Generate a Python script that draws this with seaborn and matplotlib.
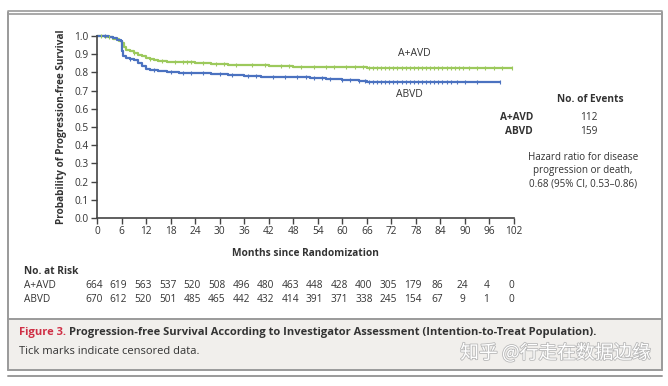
import numpy as np
import pandas as pd
import seaborn as sns
from matplotlib import pyplot as plt
from matplotlib import patheffects
from matplotlib.patches import Rectangle

# Данные кривых Каплана-Мейера (месяцы, вероятность)
aavd_t = [0, 2, 4, 5.5, 6, 6.5, 7, 8, 9, 10, 11, 12, 13, 14, 15, 17, 20, 24, 28, 32, 36, 42, 48, 54, 60, 66, 101.5]
aavd_s = [1.0, 0.995, 0.985, 0.975, 0.96, 0.94, 0.925, 0.915, 0.905, 0.897, 0.89, 0.88, 0.872, 0.866, 0.86, 0.857,
          0.855, 0.85, 0.846, 0.842, 0.84, 0.836, 0.832, 0.829, 0.827, 0.825, 0.825]
abvd_t = [0, 2, 3, 4, 5, 5.8, 6, 6.3, 7, 8, 9, 10, 11, 12, 13, 15, 17, 20, 24, 28, 32, 36, 40, 44, 48, 52, 56, 60, 64, 66, 98.5]
abvd_s = [1.0, 0.998, 0.995, 0.99, 0.98, 0.97, 0.92, 0.89, 0.88, 0.875, 0.87, 0.85, 0.835, 0.82, 0.815, 0.81, 0.80,
          0.797, 0.795, 0.79, 0.787, 0.78, 0.777, 0.775, 0.772, 0.768, 0.762, 0.758, 0.753, 0.75, 0.75]

# Цензурированные наблюдения (месяцы)
aavd_cens = [1, 3, 9, 13, 16, 19, 21, 22, 23, 26, 29, 31, 34, 38, 41, 45, 47, 50, 53, 56, 58, 61, 63, 65, 66.5, 67.5,
             68.5, 69.5, 70.5, 71.5, 72.5, 73.5, 74.5, 75.5, 76.5, 77.5, 78.5, 79.5, 80.5, 81.5, 82.5, 83.5, 84.5,
             85.5, 86.5, 87.5, 88.5, 89.5, 91, 93, 95, 97, 99, 101.5]
abvd_cens = [2, 8, 14, 18, 21, 23, 26, 30, 33, 37, 39, 43, 46, 49, 51, 53, 55, 57, 60, 62, 64, 65.5, 66.5, 67.5, 68.5,
             69.5, 70.5, 71.5, 72.5, 73.5, 74.5, 75.5, 76.5, 77.5, 78.5, 79.5, 80.5, 81.5, 82.5, 83.5, 84.5, 85.5,
             86.5, 88, 90, 93, 98.5]

# Число пациентов под риском
months = [0, 6, 12, 18, 24, 30, 36, 42, 48, 54, 60, 66, 72, 78, 84, 90, 96, 102]
risk_aavd = [664, 619, 563, 537, 520, 508, 496, 480, 463, 448, 428, 400, 305, 179, 86, 24, 4, 0]
risk_abvd = [670, 612, 520, 501, 485, 465, 442, 432, 414, 391, 371, 338, 245, 154, 67, 9, 1, 0]

green = '#9cc95c'
blue = '#4b72c0'
text_c = '#333333'

sns.set_theme(style="white")
plt.rcParams['font.family'] = ['Open Sans', 'Noto Sans CJK SC', 'DejaVu Sans']

fig = plt.figure(figsize=(6.68, 3.86), dpi=100)

# Рамки
fig.patches.append(Rectangle((8 / 668, 1 - 370 / 386), 654 / 668, 51 / 386, transform=fig.transFigure,
                             facecolor='#f1efec', edgecolor='none', zorder=0))
for y0 in [11, 13.5]:
    fig.add_artist(plt.Line2D([8 / 668, 662 / 668], [1 - y0 / 386] * 2, color='#9a9a9a', lw=1.2))
for y0 in [319, 370, 376]:
    fig.add_artist(plt.Line2D([8 / 668, 662 / 668], [1 - y0 / 386] * 2, color='#9a9a9a', lw=1.4))
fig.add_artist(plt.Line2D([8 / 668] * 2, [1 - 12 / 386, 1 - 370 / 386], color='#9a9a9a', lw=1.4))
fig.add_artist(plt.Line2D([662 / 668] * 2, [1 - 12 / 386, 1 - 370 / 386], color='#9a9a9a', lw=1.4))

ax = fig.add_axes([97 / 668, 1 - 218 / 386, 417 / 668, 182 / 386])

df = pd.concat([pd.DataFrame({'t': aavd_t, 's': aavd_s, 'arm': 'A+AVD'}),
                pd.DataFrame({'t': abvd_t, 's': abvd_s, 'arm': 'ABVD'})])
sns.lineplot(data=df, x='t', y='s', hue='arm', palette={'A+AVD': green, 'ABVD': blue}, estimator=None,
             sort=False, drawstyle='steps-post', linewidth=1.6, legend=False, ax=ax, clip_on=False)


def surv_at(times, tt, ss):
    idx = np.searchsorted(tt, times, side='right') - 1
    return np.array(ss)[idx]


for cens, tt, ss, col in [(aavd_cens, aavd_t, aavd_s, green), (abvd_cens, abvd_t, abvd_s, blue)]:
    ax.plot(cens, surv_at(cens, tt, ss), linestyle='none', marker='|', markersize=3.2, markeredgewidth=0.8,
            color=col, clip_on=False)

ax.set_xlim(0, 102)
ax.set_ylim(0, 1.0)
ax.set_xticks(months)
ax.set_yticks(np.round(np.arange(0, 1.01, 0.1), 1))
ax.set_yticklabels([f'{v:.1f}' for v in np.arange(0, 1.01, 0.1)])
ax.tick_params(axis='both', direction='out', length=4, width=1, color='#444444', labelsize=7.3,
               labelcolor=text_c, pad=2, left=True, bottom=True)
sns.despine(ax=ax)
for sp in ['left', 'bottom']:
    ax.spines[sp].set_color('#444444')
    ax.spines[sp].set_linewidth(1.2)
ax.set_xlabel('Months since Randomization', fontsize=7.3, fontweight='bold', color=text_c, labelpad=8)
ax.set_ylabel('Probability of Progression-free Survival', fontsize=7.2, fontweight='bold', color=text_c,
              labelpad=5)

ax.text(77.5, 0.875, 'A+AVD', fontsize=7.5, color=text_c, ha='center', va='bottom')
ax.text(76.5, 0.71, 'ABVD', fontsize=7.5, color=text_c, ha='center', va='top')


# Правая панель
def ftext(x, y, s, size=7.3, **kw):
    return fig.text(x / 668, 1 - y / 386, s, fontsize=size, color=text_c, va='center', **kw)


ftext(590, 99, 'No. of Events', ha='center', fontweight='bold')
ftext(533, 117, 'A+AVD', ha='right', fontweight='bold')
ftext(533, 131, 'ABVD', ha='right', fontweight='bold')
ftext(589, 117, '112', ha='center')
ftext(589, 131, '159', ha='center')
ftext(583, 171, 'Hazard ratio for disease\nprogression or death,\n0.68 (95% CI, 0.53\u20130.86)', ha='center',
      linespacing=1.25, size=7.1)

# Таблица риска
ftext(24, 271, 'No. at Risk', ha='left', fontweight='bold')
ftext(24, 286, 'A+AVD', ha='left')
ftext(24, 300, 'ABVD', ha='left')
for m, a, b in zip(months, risk_aavd, risk_abvd):
    x = 97 + m * 417 / 102 - 3
    ftext(x, 286, str(a), ha='center')
    ftext(x, 300, str(b), ha='center')

# Подпись
renderer = fig.canvas.get_renderer()
fig_lbl = fig.text(19 / 668, 1 - 332 / 386, 'Figure 3. ', fontsize=8, color='#cf2f45', fontweight='bold',
                   va='center')
x_end = fig_lbl.get_window_extent(renderer).x1 / fig.bbox.width
fig.text(x_end, 1 - 332 / 386,
         'Progression-free Survival According to Investigator Assessment (Intention-to-Treat Population).',
         fontsize=8, color=text_c, fontweight='bold', va='center')
fig.text(19 / 668, 1 - 352 / 386, 'Tick marks indicate censored data.', fontsize=8, color=text_c, va='center')
fig.text(651 / 668, 1 - 353 / 386, '知乎 @行走在数据边缘', fontsize=13.5, color='#ffffff', ha='right', va='center',
         family=['Noto Sans CJK SC', 'DejaVu Sans'],
         path_effects=[patheffects.withStroke(linewidth=1.2, foreground='#b8b8b8')])

fig.savefig('out.png', dpi=100)
